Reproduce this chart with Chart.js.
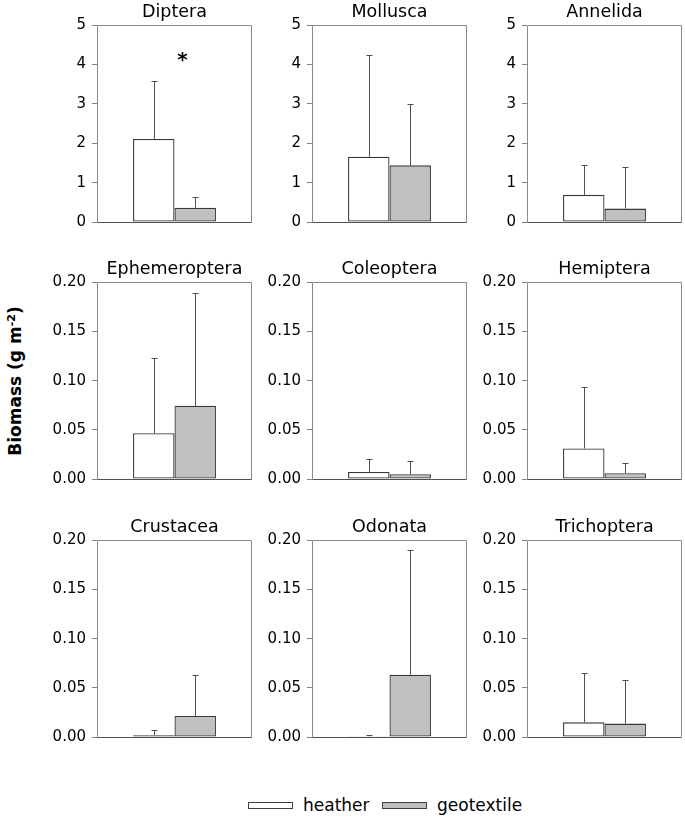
<!DOCTYPE html>
<html>
<head>
<meta charset="utf-8">
<script src="https://cdn.jsdelivr.net/npm/chart.js@4.4.1/dist/chart.umd.min.js"></script>
<style>
  body { margin: 0; background: #fff; font-family: "DejaVu Sans", sans-serif; }
  #page { position: relative; width: 685px; height: 819px; overflow: hidden; }
  #page canvas { position: absolute; }
  #ytitle { position: absolute; left: 15px; top: 381px; transform: translate(-50%, -50%) rotate(-90deg);
            font-weight: bold; font-size: 17px; white-space: nowrap; color: #000; }
  #ytitle sup { font-size: 11px; }
  .sw { position: absolute; width: 43px; height: 5px; border: 1px solid #404040; }
  .lt { position: absolute; font-size: 17px; line-height: 20px; color: #000; }
</style>
</head>
<body>
<div id="page">
  <div id="ytitle">Biomass (g m<sup>-2</sup>)</div>
  <div class="sw" style="left:248px; top:802px; background:#ffffff;"></div>
  <div class="lt" style="left:303px; top:795px;">heather</div>
  <div class="sw" style="left:382px; top:802px; background:#c0c0c0;"></div>
  <div class="lt" style="left:437px; top:795px;">geotextile</div>
</div>
<script>
var taxa = ['Diptera', 'Mollusca', 'Annelida', 'Ephemeroptera', 'Coleoptera', 'Hemiptera', 'Crustacea', 'Odonata', 'Trichoptera'];
var heather = [2.11, 1.66, 0.69, 0.0465, 0.0071, 0.031, 0.0017, 0.0007, 0.0149];
var heatherSE = [1.48, 2.59, 0.76, 0.0765, 0.0129, 0.063, 0.0054, 0.0017, 0.0501];
var geotextile = [0.36, 1.44, 0.34, 0.0744, 0.0048, 0.0058, 0.0214, 0.0633, 0.0136];
var geotextileSE = [0.28, 1.56, 1.05, 0.1146, 0.0135, 0.0108, 0.0416, 0.1267, 0.044];
var significance = ['*', '', '', '', '', '', '', '', ''];
var yMax = [5, 5, 5, 0.2, 0.2, 0.2, 0.2, 0.2, 0.2];
var ticksBig = ['0', '1', '2', '3', '4', '5'];
var ticksSmall = ['0.00', '0.05', '0.10', '0.15', '0.20'];

// plot area layout (pixels)
var colLeft = [97, 312, 527];
var rowTop = [25, 282, 540];
var plotW = 155, plotH = 196;
var axisW = 55, titleH = 28, padBottom = 16;

var font = 'DejaVu Sans';

var frame = {
  id: 'frame',
  beforeDatasetsDraw: function (chart) {
    var a = chart.chartArea, ctx = chart.ctx;
    var l = Math.round(a.left) + 0.5, t = Math.round(a.top) + 0.5;
    var r = Math.round(a.right) - 0.5, b = Math.round(a.bottom) + 0.5;
    ctx.save();
    ctx.lineWidth = 1;
    ctx.strokeStyle = '#8a8a8a';
    ctx.beginPath();
    ctx.moveTo(l, t); ctx.lineTo(r, t); ctx.lineTo(r, b);
    ctx.moveTo(l, t); ctx.lineTo(l, b);
    ctx.stroke();
    ctx.strokeStyle = '#505050';
    ctx.beginPath();
    ctx.moveTo(l, b); ctx.lineTo(r, b);
    ctx.stroke();
    ctx.restore();
  }
};

var errorBars = {
  id: 'errorBars',
  afterDatasetsDraw: function (chart) {
    var ctx = chart.ctx, y = chart.scales.y;
    chart.data.datasets.forEach(function (ds, i) {
      var bar = chart.getDatasetMeta(i).data[0];
      var x = Math.round(bar.x) + 0.5;
      var top = Math.round(y.getPixelForValue(ds.data[0] + ds.se[0])) + 0.5;
      ctx.save();
      ctx.strokeStyle = '#505050';
      ctx.lineWidth = 1;
      ctx.beginPath();
      ctx.moveTo(x, bar.y);
      ctx.lineTo(x, top);
      ctx.moveTo(x - 3, top);
      ctx.lineTo(x + 3, top);
      ctx.stroke();
      ctx.restore();
    });
    var mark = chart.options.plugins.mark;
    if (mark && mark.text) {
      var xs = chart.scales.x;
      ctx.save();
      ctx.fillStyle = '#000';
      ctx.font = 'bold 20px "' + font + '"';
      ctx.textAlign = 'center';
      ctx.textBaseline = 'middle';
      ctx.fillText(mark.text, xs.getPixelForValue(0) + 8, y.getPixelForValue(mark.at) + 4);
      ctx.restore();
    }
  }
};

var page = document.getElementById('page');

taxa.forEach(function (name, k) {
  var col = k % 3, row = Math.floor(k / 3);
  var cv = document.createElement('canvas');
  cv.width = axisW + plotW + 2;
  cv.height = titleH + plotH + padBottom;
  cv.style.left = (colLeft[col] - axisW) + 'px';
  cv.style.top = (rowTop[row] - titleH) + 'px';
  page.appendChild(cv);

  var labels = yMax[k] > 1 ? ticksBig : ticksSmall;

  new Chart(cv.getContext('2d'), {
    type: 'bar',
    data: {
      labels: [name],
      datasets: [
        { label: 'heather', data: [heather[k]], se: [heatherSE[k]],
          backgroundColor: '#ffffff', borderColor: '#383838', borderWidth: 1.3, borderSkipped: false },
        { label: 'geotextile', data: [geotextile[k]], se: [geotextileSE[k]],
          backgroundColor: '#c0c0c0', borderColor: '#383838', borderWidth: 1.3, borderSkipped: false }
      ]
    },
    options: {
      responsive: false,
      animation: false,
      categoryPercentage: 0.535,
      barPercentage: 1.0,
      layout: { padding: { left: 0, right: 2, top: 0, bottom: 0 } },
      plugins: {
        legend: { display: false },
        tooltip: { enabled: false },
        title: {
          display: true, text: name, color: '#000', fullSize: false,
          font: { family: font, size: 17.5, weight: 'normal', lineHeight: 1.1 },
          padding: { top: 6, bottom: 3 }
        },
        mark: { text: significance[k], at: yMax[k] * 0.84 }
      },
      scales: {
        x: { display: false },
        y: {
          min: 0, max: yMax[k],
          ticks: {
            stepSize: yMax[k] / (labels.length - 1),
            color: '#000', padding: 6,
            font: { family: font, size: 15 },
            callback: function (v, i) { return labels[i]; }
          },
          grid: { drawOnChartArea: false, drawTicks: true, tickLength: 5, color: '#808080' },
          border: { display: false },
          afterFit: function (s) { s.width = axisW; }
        }
      }
    },
    plugins: [frame, errorBars]
  });
});
</script>
</body>
</html>
